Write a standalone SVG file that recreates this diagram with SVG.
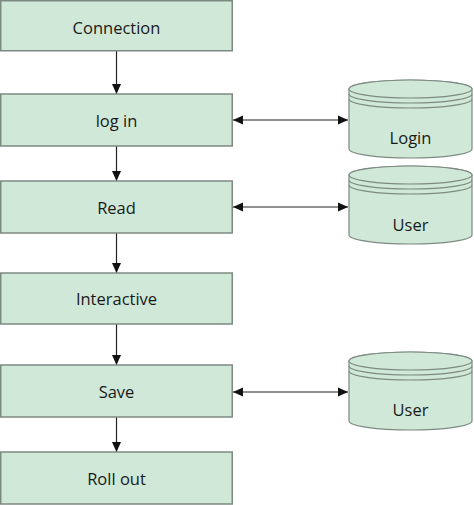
<svg xmlns="http://www.w3.org/2000/svg" width="474" height="505" viewBox="0 0 474 505">
<defs>
<style>
.box{fill:#cfe8d7;stroke:#7d8a82;stroke-width:1.5}
.cyl{fill:#cfe8d7;stroke:#7d8a82;stroke-width:1.2}
.ln{fill:none;stroke:#7d8a82;stroke-width:1.2}
.t{font-family:"Open Sans","Noto Sans",sans-serif;font-size:16.5px;fill:#1a1a1a;text-anchor:middle;dominant-baseline:central}
.c{stroke:#222;stroke-width:1.2;fill:none}
</style>
<marker id="ah" markerWidth="11" markerHeight="11" refX="10" refY="5.5" orient="auto-start-reverse" markerUnits="userSpaceOnUse">
<path d="M0,1 L10,5.5 L0,10 Z" fill="#111"/>
</marker>
</defs>
<g id="connectors">
<line class="c" x1="116.5" y1="51" x2="116.5" y2="94" marker-end="url(#ah)"/>
<line class="c" x1="116.5" y1="146" x2="116.5" y2="181" marker-end="url(#ah)"/>
<line class="c" x1="116.5" y1="233" x2="116.5" y2="273" marker-end="url(#ah)"/>
<line class="c" x1="116.5" y1="324" x2="116.5" y2="365" marker-end="url(#ah)"/>
<line class="c" x1="116.5" y1="417" x2="116.5" y2="452" marker-end="url(#ah)"/>
<line class="c" x1="233" y1="120" x2="348" y2="120" marker-start="url(#ah)" marker-end="url(#ah)"/>
<line class="c" x1="233" y1="207" x2="348" y2="207" marker-start="url(#ah)" marker-end="url(#ah)"/>
<line class="c" x1="233" y1="392" x2="348" y2="392" marker-start="url(#ah)" marker-end="url(#ah)"/>
</g>
<g id="n-connection"><rect class="box" x="0.75" y="0.75" width="231.5" height="50"/><text class="t" x="116.5" y="27">Connection</text></g>
<g id="n-login"><rect class="box" x="0.75" y="94" width="231.5" height="52"/><text class="t" x="116.5" y="120">log in</text></g>
<g id="n-read"><rect class="box" x="0.75" y="181" width="231.5" height="52"/><text class="t" x="116.5" y="207">Read</text></g>
<g id="n-interactive"><rect class="box" x="0.75" y="273" width="231.5" height="51"/><text class="t" x="116.5" y="298.5">Interactive</text></g>
<g id="n-save"><rect class="box" x="0.75" y="365" width="231.5" height="52"/><text class="t" x="116.5" y="391">Save</text></g>
<g id="n-rollout"><rect class="box" x="0.75" y="452" width="231.5" height="52"/><text class="t" x="116.5" y="478">Roll out</text></g>
<g id="db-login">
<path class="cyl" d="M349,89 L349,149 A61.5,9 0 0 0 472,149 L472,89 A61.5,9 0 0 0 349,89 Z"/>
<ellipse class="cyl" cx="410.5" cy="89" rx="61.5" ry="9"/>
<path class="ln" d="M349,94 A61.5,9 0 0 0 472,94"/>
<path class="ln" d="M349,99 A61.5,9 0 0 0 472,99"/>
<text class="t" x="410.5" y="137">Login</text>
</g>
<g id="db-user1">
<path class="cyl" d="M349,175 L349,235 A61.5,9 0 0 0 472,235 L472,175 A61.5,9 0 0 0 349,175 Z"/>
<ellipse class="cyl" cx="410.5" cy="175" rx="61.5" ry="9"/>
<path class="ln" d="M349,180 A61.5,9 0 0 0 472,180"/>
<path class="ln" d="M349,185 A61.5,9 0 0 0 472,185"/>
<text class="t" x="410.5" y="224">User</text>
</g>
<g id="db-user2">
<path class="cyl" d="M349,361 L349,421 A61.5,9 0 0 0 472,421 L472,361 A61.5,9 0 0 0 349,361 Z"/>
<ellipse class="cyl" cx="410.5" cy="361" rx="61.5" ry="9"/>
<path class="ln" d="M349,366 A61.5,9 0 0 0 472,366"/>
<path class="ln" d="M349,371 A61.5,9 0 0 0 472,371"/>
<text class="t" x="410.5" y="409">User</text>
</g>
</svg>
